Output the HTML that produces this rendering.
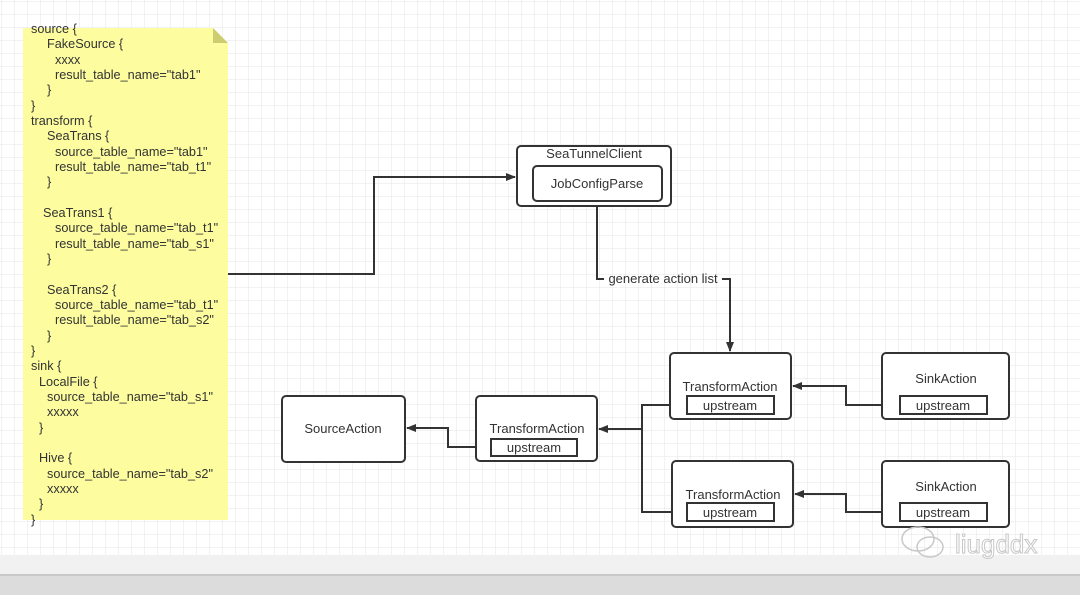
<!DOCTYPE html>
<html><head><meta charset="utf-8"><style>
html,body{margin:0;padding:0;width:1080px;height:595px;overflow:hidden;background:#fff}
svg{display:block;font-family:"Liberation Sans",sans-serif}
</style></head><body>
<svg width="1080" height="595" xmlns="http://www.w3.org/2000/svg">
<defs>
<pattern id="g" width="13" height="13" patternUnits="userSpaceOnUse" x="2" y="2">
<path d="M13 0V13H0" fill="none" stroke="#e6e6e6" stroke-width="1"/>
</pattern>
<marker id="a" markerWidth="10" markerHeight="10" refX="9" refY="5" orient="auto" markerUnits="userSpaceOnUse">
<path d="M0 1L10 5L0 9z" fill="#333"/>
</marker>
</defs>
<rect width="1080" height="555" fill="url(#g)"/>
<rect y="555" width="1080" height="20" fill="#f1f1f1"/>
<rect y="575" width="1080" height="20" fill="#dcdcdc"/>
<rect y="574" width="1080" height="2" fill="#c8c8c8"/>
<path d="M23 28H213L228 43V520H23z" fill="#fdfda0"/>
<path d="M213 28L228 43H213z" fill="#cccc70"/>
<g font-size="12.7" fill="#333">
<text x="31" y="33">source {</text>
<text x="47" y="48">FakeSource {</text>
<text x="55" y="64">xxxx</text>
<text x="55" y="79">result_table_name="tab1"</text>
<text x="47" y="94">}</text>
<text x="31" y="110">}</text>
<text x="31" y="125">transform {</text>
<text x="47" y="140">SeaTrans {</text>
<text x="55" y="156">source_table_name="tab1"</text>
<text x="55" y="171">result_table_name="tab_t1"</text>
<text x="47" y="186">}</text>
<text x="43" y="217">SeaTrans1 {</text>
<text x="55" y="232">source_table_name="tab_t1"</text>
<text x="55" y="248">result_table_name="tab_s1"</text>
<text x="47" y="263">}</text>
<text x="47" y="294">SeaTrans2 {</text>
<text x="55" y="309">source_table_name="tab_t1"</text>
<text x="55" y="324">result_table_name="tab_s2"</text>
<text x="47" y="340">}</text>
<text x="31" y="355">}</text>
<text x="31" y="370">sink {</text>
<text x="39" y="386">LocalFile {</text>
<text x="47" y="401">source_table_name="tab_s1"</text>
<text x="47" y="416">xxxxx</text>
<text x="39" y="432">}</text>
<text x="39" y="462">Hive {</text>
<text x="47" y="478">source_table_name="tab_s2"</text>
<text x="47" y="493">xxxxx</text>
<text x="39" y="508">}</text>
<text x="31" y="524">}</text>
</g>
<g fill="none" stroke="#333" stroke-width="2">
<path d="M228 274H374V177H515" marker-end="url(#a)"/>
<path d="M597 201V279H604M722 279H730V351" marker-end="url(#a)"/>
<path d="M900 405H846V386H793" marker-end="url(#a)"/>
<path d="M900 512H846V494H795" marker-end="url(#a)"/>
<path d="M687 405H642V512H687M642 429H599" marker-end="url(#a)"/>
<path d="M491 447H448V428H407" marker-end="url(#a)"/>
</g>
<g fill="#fff" stroke="#333" stroke-width="2">
<rect x="517" y="146" width="154" height="60" rx="4"/>
<rect x="533" y="166" width="129" height="35" rx="4"/>
<rect x="670" y="353" width="121" height="66" rx="4"/>
<rect x="687" y="396" width="87" height="18"/>
<rect x="882" y="353" width="127" height="66" rx="4"/>
<rect x="900" y="396" width="87" height="18"/>
<rect x="672" y="461" width="121" height="66" rx="4"/>
<rect x="687" y="503" width="87" height="18"/>
<rect x="882" y="461" width="127" height="66" rx="4"/>
<rect x="900" y="503" width="87" height="18"/>
<rect x="476" y="396" width="121" height="65" rx="4"/>
<rect x="491" y="439" width="86" height="17"/>
<rect x="282" y="396" width="123" height="66" rx="4"/>
</g>
<g font-size="13" fill="#333" text-anchor="middle">
<text x="594" y="158">SeaTunnelClient</text>
<text x="597" y="188">JobConfigParse</text>
<text x="663" y="283">generate action list</text>
<text x="730" y="391">TransformAction</text>
<text x="730" y="410">upstream</text>
<text x="946" y="383">SinkAction</text>
<text x="943" y="410">upstream</text>
<text x="733" y="499">TransformAction</text>
<text x="730" y="517">upstream</text>
<text x="946" y="491">SinkAction</text>
<text x="943" y="517">upstream</text>
<text x="537" y="433">TransformAction</text>
<text x="534" y="452">upstream</text>
<text x="343" y="433">SourceAction</text>
</g>
<g fill="none" stroke="#c8c8c8" stroke-width="1.5">
<ellipse cx="918" cy="539" rx="16" ry="12"/>
<ellipse cx="930" cy="547" rx="13" ry="10"/>
</g>
<text x="955" y="553" font-size="26" fill="#fff" stroke="#c8c8c8" stroke-width="1">liugddx</text>
</svg>
</body></html>
